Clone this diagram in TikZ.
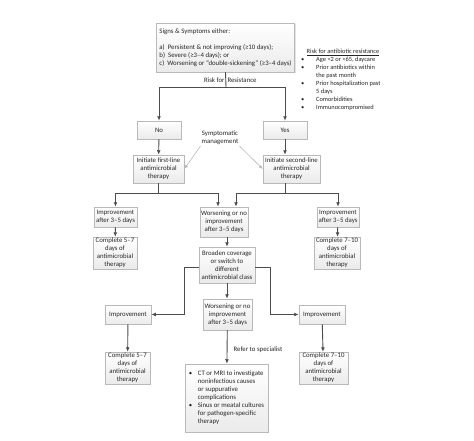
\documentclass[tikz,border=0pt]{standalone}
\usepackage{fontspec}
\setmainfont{Carlito}
\usepackage{xcolor}
\usetikzlibrary{arrows.meta,shadows}

\newcommand{\boxfont}{\fontsize{6.8}{8}\selectfont}
\newcommand{\listfont}{\fontsize{6.4}{7.9}\selectfont}

\tikzset{
  stepbox/.style={draw=gray!55, line width=0.5pt, top color=white, bottom color=gray!16,
    align=center, font=\boxfont, text=black!85, inner sep=1pt,
    drop shadow={opacity=0.22, shadow xshift=1pt, shadow yshift=-1pt}},
  plainlabel/.style={font=\boxfont, text=black!85, align=center, inner sep=1pt},
  flowline/.style={draw=black!70, line width=0.9pt},
  flow/.style={flowline, -{Latex[length=4.5pt,width=3.8pt]}},
  softflow/.style={draw=gray!55, line width=0.6pt, -{Latex[length=4pt,width=3.4pt]}}
}

\begin{document}
\begin{tikzpicture}[x=1pt,y=-1pt]
\fill[white] (0,0) rectangle (474,440);
\useasboundingbox (0,0) rectangle (474,440);

%draw top box
\node[stepbox, align=left, inner xsep=3pt, minimum width=135pt, minimum height=49pt] (signs) at (225.5,47.5)
  {Signs \& Symptoms either:\\[8pt]
   a)\ \ Persistent \& not improving (≥10 days);\\
   b)\ \ Severe (≥3–4 days); or\\
   c)\ \ Worsening or ``double-sickening'' (≥3–4 days)};
\node[plainlabel] (risk) at (226,80) {\makebox[0pt][r]{Risk for\ }\makebox[0pt][l]{\ Resistance}};
\coordinate (rsplit) at (226,87);

%draw risk factor list
\node[font=\listfont, text=black!85, anchor=north west, inner sep=0pt] (riskfactors) at (301,48) {%
  \begin{tabular}{@{}p{15pt}@{}l@{}}
  \multicolumn{2}{@{\hspace{5.5pt}}l@{}}{\underline{Risk for antibiotic resistance}}\\
  \textbullet & Age <2 or >65, daycare\\
  \textbullet & Prior antibiotics within\\
              & the past month\\
  \textbullet & Prior hospitalization past\\
              & 5 days\\
  \textbullet & Comorbidities\\
  \textbullet & Immunocompromised
  \end{tabular}};

%draw first row
\node[stepbox, minimum width=44pt, minimum height=18pt] (no) at (159,130) {No};
\node[stepbox, minimum width=44pt, minimum height=18pt] (yes) at (285,130) {Yes};
\node[plainlabel] (symp) at (220,138) {Symptomatic\\management};
\node[stepbox, minimum width=51pt, minimum height=28pt] (first) at (158.5,169) {Initiate first-line\\antimicrobial\\therapy};
\node[stepbox, minimum width=57pt, minimum height=28pt] (second) at (291.5,169) {Initiate second-line\\antimicrobial\\therapy};
\coordinate (lsplit) at (158.5,193);
\coordinate (ysplit) at (285,193);

%draw second row
\node[stepbox, minimum width=43pt, minimum height=20pt] (imp1) at (115.5,217) {Improvement\\after 3–5 days};
\node[stepbox, minimum width=46pt, minimum height=30pt] (wors1) at (224,222) {Worsening or no\\improvement\\after 3–5 days};
\node[stepbox, minimum width=42pt, minimum height=20pt] (imp2) at (338,217) {Improvement\\after 3–5 days};
\node[stepbox, minimum width=44pt, minimum height=30pt] (comp1) at (115,253) {Complete 5–7\\days of\\antimicrobial\\therapy};
\node[stepbox, minimum width=46pt, minimum height=30pt] (comp2) at (337,253) {Complete 7–10\\days of\\antimicrobial\\therapy};
\node[stepbox, minimum width=56pt, minimum height=36pt] (broad) at (227,265) {Broaden coverage\\or switch to\\different\\antimicrobial class};

%draw third row
\node[stepbox, minimum width=46pt, minimum height=19pt] (imp3) at (128,314.5) {Improvement};
\node[stepbox, minimum width=49pt, minimum height=31pt] (wors2) at (227.5,314.5) {Worsening or no\\improvement\\after 3–5 days};
\node[stepbox, minimum width=46pt, minimum height=19pt] (imp4) at (322,314.5) {Improvement};
\node[stepbox, minimum width=45pt, minimum height=30pt] (comp3) at (127.5,368) {Complete 5–7\\days of\\antimicrobial\\therapy};
\node[stepbox, minimum width=49pt, minimum height=30pt] (comp4) at (323.5,368) {Complete 7–10\\days of\\antimicrobial\\therapy};
\node[plainlabel] (refer) at (258,350) {Refer to specialist};
\node[stepbox, minimum width=83pt, minimum height=68pt] (spec) at (226.5,398) {%
  \begin{tabular}{@{}p{9pt}@{}l@{}}
  \textbullet & CT or MRI to investigate\\
              & noninfectious causes\\
              & or suppurative\\
              & complications\\
  \textbullet & Sinus or meatal cultures\\
              & for pathogen-specific\\
              & therapy
  \end{tabular}};

%draw connectors
\draw[flowline] (signs.south) -- (rsplit);
\draw[flow] (rsplit) -| (no);
\draw[flow] (rsplit) -| (yes);
\draw[flow] (no) -- (first);
\draw[flow] (yes) -- (yes |- second.north);
\draw[softflow] (symp.south west) -- (first.east);
\draw[softflow] (symp.south east) -- (second.west);
\draw[flowline] (first) -- (lsplit);
\draw[flow] (lsplit) -| (imp1);
\draw[flow] (lsplit) -| ([xshift=-6pt]wors1.north);
\draw[flowline] (yes |- second.south) -- (ysplit);
\draw[flow] (ysplit) -| ([xshift=12pt]wors1.north);
\draw[flow] (ysplit) -| (imp2);
\draw[flow] (imp1) -- (comp1);
\draw[flow] (imp2) -- (comp2);
\draw[flow] (broad |- wors1.south) -- (broad);
\draw[flow] ([yshift=-2pt]broad.west) -- ++(-14,0) |- (imp3);
\draw[flow] ([yshift=-2pt]broad.east) -- ++(15,0) |- (imp4);
\draw[flow] (broad) -- (broad |- wors2.north);
\draw[flow] (imp3) -- (comp3);
\draw[flow] (imp4) -- (comp4);
\draw[flow] (wors2) -- (spec);
\end{tikzpicture}
\end{document}
